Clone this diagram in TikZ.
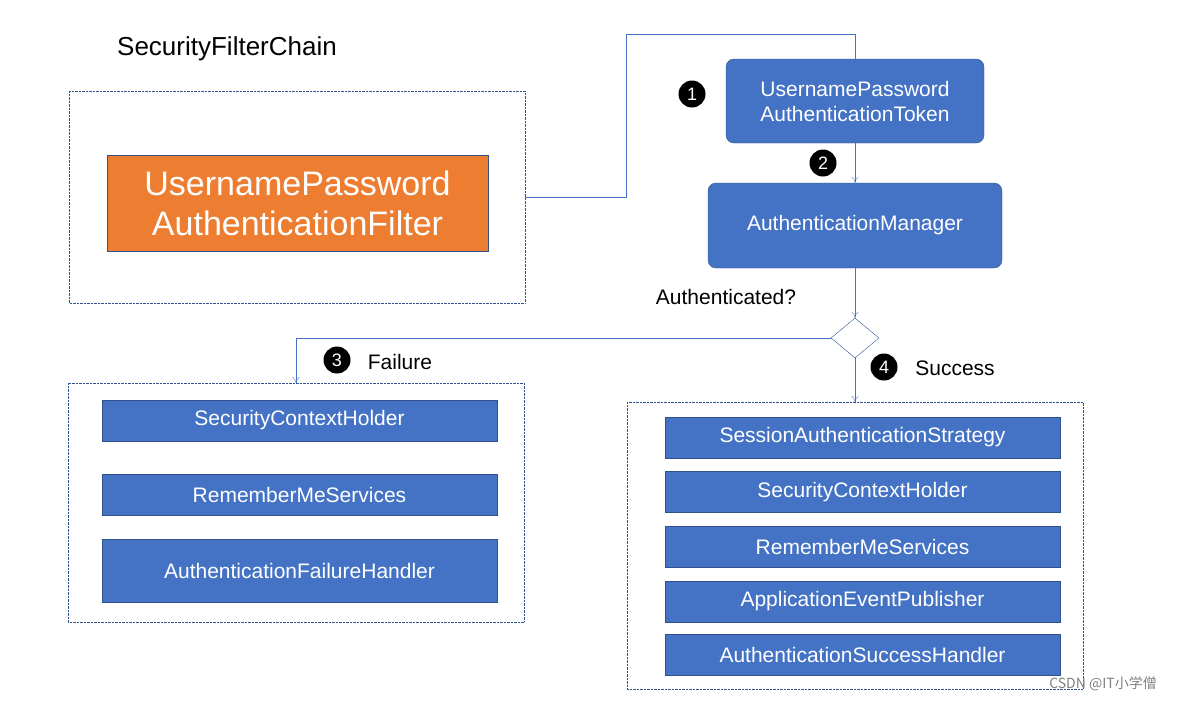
\documentclass[tikz,border=0pt]{standalone}
\usepackage{fontspec}
\setmainfont{Liberation Sans}
\newfontfamily\cjk{Noto Sans CJK SC}
\usetikzlibrary{arrows.meta}
\usetikzlibrary{shapes.geometric}
\definecolor{msblue}{HTML}{4472C4}
\definecolor{msedge}{HTML}{2F528F}
\definecolor{msorange}{HTML}{ED7D31}
\begin{document}
\begin{tikzpicture}[x=1pt, y=-1pt, >={To[length=6pt,width=7pt]},
        group_style/.style={draw=msedge, densely dotted, thin},
        bar_style/.style={draw=msedge, fill=msblue, text=white, font=\fontsize{21}{25}\selectfont},
        round_style/.style={draw=msedge, fill=msblue, text=white, rounded corners=8pt, align=center, font=\fontsize{21}{25}\selectfont},
        step_style/.style={circle, fill=black, text=white, inner sep=0pt, minimum size=27pt, font=\fontsize{18}{20}\selectfont},
        edge_style/.style={draw=msblue, thin}]
        \useasboundingbox (0,0) rectangle (1181,702);

        \node [anchor=center, font=\fontsize{26}{30}\selectfont] (title) at (227,49) {SecurityFilterChain};
        \draw [group_style] (69,91) rectangle (525,303);
        \node [draw=msedge, fill=msorange, text=white, align=center, minimum width=381pt, minimum height=96pt, font=\fontsize{34}{40}\selectfont] (filter) at (297.5,203) {UsernamePassword\\AuthenticationFilter};

        \node [round_style, minimum width=258pt, minimum height=84pt] (token) at (855,101) {UsernamePassword\\AuthenticationToken};
        \node [round_style, minimum width=294pt, minimum height=85pt] (manager) at (855,225.5) {AuthenticationManager};
        \node [diamond, draw=msedge, fill=white, minimum width=48pt, minimum height=40pt, inner sep=0pt] (decision) at (855,338) {};
        \node [font=\fontsize{21}{25}\selectfont] (question) at (726,297) {Authenticated?};

        \node [step_style] (s1) at (692,94) {1};
        \node [step_style] (s2) at (823,163) {2};
        \node [step_style] (s3) at (337,360) {3};
        \node [step_style] (s4) at (884,367) {4};
        \node [font=\fontsize{21}{25}\selectfont] (failure) at (400,362) {Failure};
        \node [font=\fontsize{21}{25}\selectfont] (success) at (955,368) {Success};

        % failure group
        \draw [group_style] (68,383) rectangle (524,622);
        \coordinate (failtop) at (296,383);
        \node [bar_style, minimum width=395pt, minimum height=41pt] (f1) at (299.5,420.5) {SecurityContextHolder};
        \node [bar_style, minimum width=395pt, minimum height=41pt] (f2) at (299.5,494.5) {RememberMeServices};
        \node [bar_style, minimum width=395pt, minimum height=63pt] (f3) at (299.5,570.5) {AuthenticationFailureHandler};

        % success group
        \draw [group_style] (627,402) rectangle (1083,689);
        \coordinate (succtop) at (855,402);
        \node [bar_style, minimum width=395pt, minimum height=41pt] (g1) at (862.5,437.5) {SessionAuthenticationStrategy};
        \node [bar_style, minimum width=395pt, minimum height=41pt] (g2) at (862.5,492) {SecurityContextHolder};
        \node [bar_style, minimum width=395pt, minimum height=41pt] (g3) at (862.5,547) {RememberMeServices};
        \node [bar_style, minimum width=395pt, minimum height=41pt] (g4) at (862.5,601.5) {ApplicationEventPublisher};
        \node [bar_style, minimum width=395pt, minimum height=41pt] (g5) at (862.5,654.5) {AuthenticationSuccessHandler};

        \draw [edge_style] (filter.east) ++(37,-6) coordinate (fout);
        \draw [edge_style] (525,197) -| (626,34) -| (token.north);
        \draw [edge_style, ->] (token.south) -- (manager.north);
        \draw [edge_style, ->] (manager.south) -- (decision.north);
        \draw [edge_style, ->] (decision.west) -| (failtop);
        \draw [edge_style, ->] (decision.south) -- (succtop);

        \node [text=gray, font=\cjk\fontsize{14}{16}\selectfont] (mark) at (1103,684) {CSDN @IT小学僧};
\end{tikzpicture}
\end{document}
